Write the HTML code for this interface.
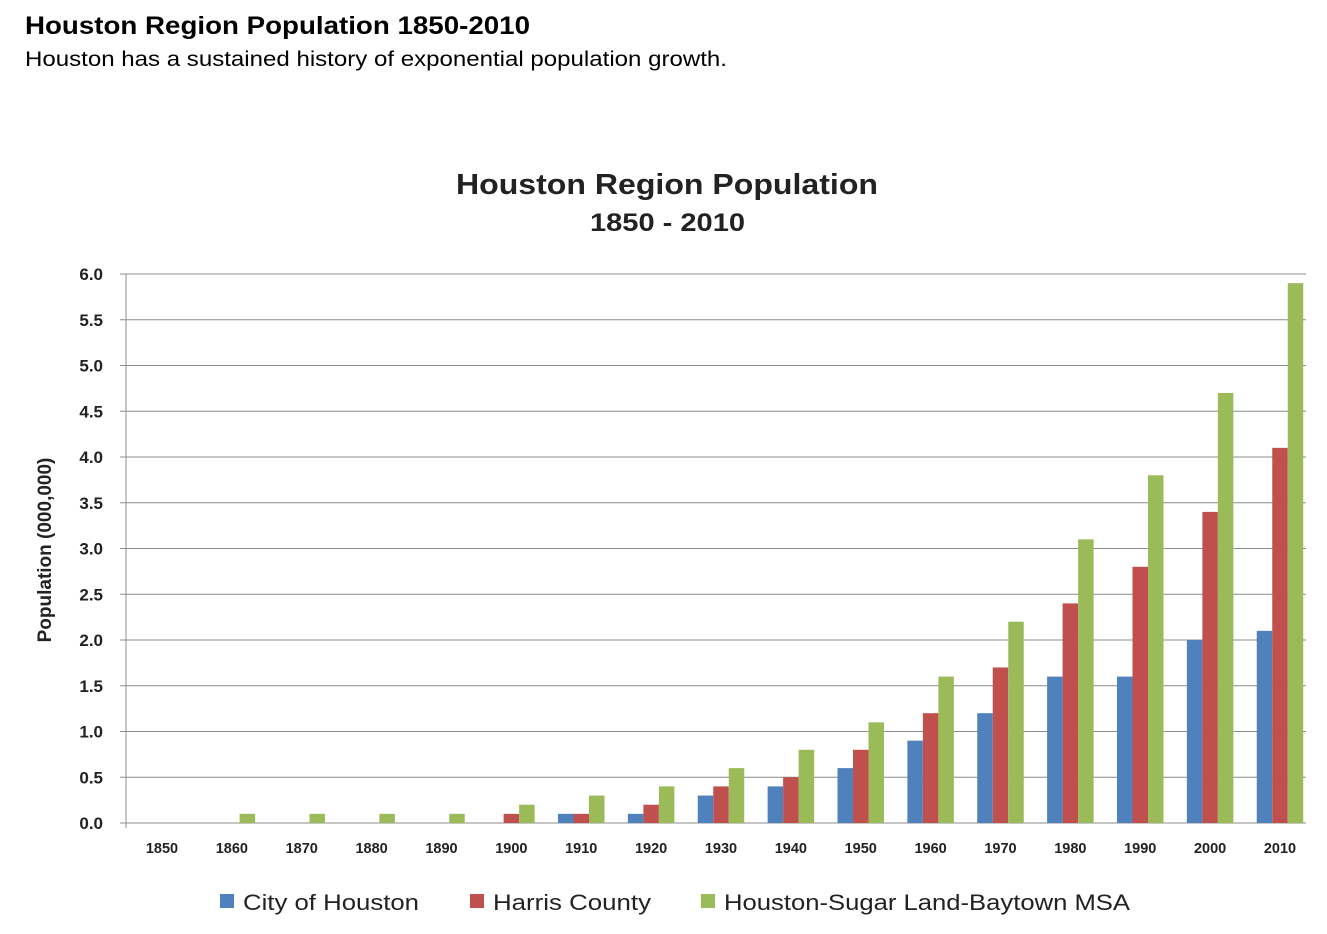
<!DOCTYPE html>
<html><head><meta charset="utf-8">
<style>
body{margin:0;background:#fff;width:1327px;height:934px;overflow:hidden;font-family:"Liberation Sans",sans-serif;}
svg{position:absolute;left:0;top:0;}
</style></head><body>
<svg id="chart" width="1327" height="934"></svg>
<script>
const categories=["1850","1860","1870","1880","1890","1900","1910","1920","1930","1940","1950","1960","1970","1980","1990","2000","2010"];
const cityValues=[0,0,0,0,0,0,0.1,0.1,0.3,0.4,0.6,0.9,1.2,1.6,1.6,2.0,2.1];
const countyValues=[0,0,0,0,0,0.1,0.1,0.2,0.4,0.5,0.8,1.2,1.7,2.4,2.8,3.4,4.1];
const msaValues=[0,0.1,0.1,0.1,0.1,0.2,0.3,0.4,0.6,0.8,1.1,1.6,2.2,3.1,3.8,4.7,5.9];
const yTicks=["0.0","0.5","1.0","1.5","2.0","2.5","3.0","3.5","4.0","4.5","5.0","5.5","6.0"];
const seriesNames=["City of Houston","Harris County","Houston-Sugar Land-Baytown MSA"];

const NS="http://www.w3.org/2000/svg";
const svg=document.getElementById('chart');
const X0=126,X1=1306,Y0=823,Y1=274,YMAX=6;
const step=69.875;
const y=v=>Y0-(v/YMAX)*(Y0-Y1);
const xc=i=>162+step*i;
function mk(t,a,txt){const e=document.createElementNS(NS,t);for(const k in a)e.setAttribute(k,a[k]);if(txt!==undefined)e.textContent=txt;svg.appendChild(e);return e;}
const F='"Liberation Sans",sans-serif';
let e;
e=mk('text',{x:25,y:34,'font-size':25,'font-weight':'bold','font-family':F,fill:'#000',textLength:505,lengthAdjust:'spacingAndGlyphs'},'Houston Region Population 1850-2010');


e=mk('text',{x:25,y:66,'font-size':21,'font-family':F,fill:'#000',textLength:702,lengthAdjust:'spacingAndGlyphs'},'Houston has a sustained history of exponential population growth.');


e=mk('text',{x:456,y:194,'font-size':29,'font-weight':'bold','font-family':F,fill:'#222',textLength:422,lengthAdjust:'spacingAndGlyphs'},'Houston Region Population');


e=mk('text',{x:590,y:231,'font-size':25,'font-weight':'bold','font-family':F,fill:'#222',textLength:155,lengthAdjust:'spacingAndGlyphs'},'1850 - 2010');


yTicks.forEach(t=>{const v=parseFloat(t);
 e=mk('line',{x1:X0-6,x2:X1,y1:y(v),y2:y(v),stroke:'#8c8c8c','stroke-width':1});
 
 
 e=mk('text',{x:103,y:y(v)+6,'text-anchor':'end','font-size':17,'font-weight':'bold','font-family':F,fill:'#222'},t);
 
 
});
e=mk('line',{x1:X0,x2:X0,y1:Y1,y2:Y0+5,stroke:'#8c8c8c'});


e=mk('text',{x:0,y:0,transform:'translate(51,550) rotate(-90)','text-anchor':'middle','font-size':19,'font-weight':'bold','font-family':F,fill:'#222'},'Population (000,000)');


const cols=['#4F81BD','#C0504D','#9BBB59'];
const series=[cityValues,countyValues,msaValues];
const bw=15.5;
categories.forEach((c,i)=>{
 e=mk('text',{x:xc(i),y:853,'text-anchor':'middle','font-size':14.5,'font-weight':'bold','font-family':F,fill:'#222'},c);
 
 
 series.forEach((s,k)=>{const v=s[i];if(v<=0)return;
  const bx=xc(i)-1.5*bw+k*bw;
  e=mk('rect',{x:bx,y:y(v),width:bw,height:Y0-y(v),fill:cols[k]});
  
  
 });
});
const lx=[220,470,701];
const lw=[176,158,406];
seriesNames.forEach((n,k)=>{
 e=mk('rect',{x:lx[k],y:894,width:14,height:14,fill:cols[k]});
 
 
 e=mk('text',{x:lx[k]+23,y:910,'font-size':22,'font-family':F,fill:'#222',textLength:lw[k],lengthAdjust:'spacingAndGlyphs'},n);
 
 
});
</script>
</body></html>
